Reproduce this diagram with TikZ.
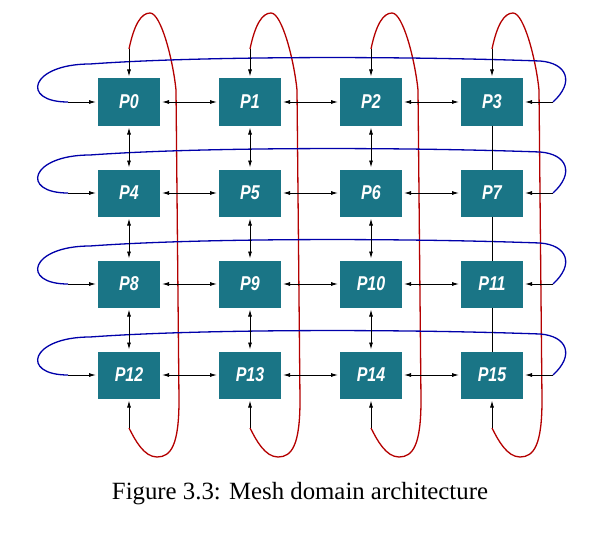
\documentclass[tikz,border=0pt]{standalone}
\usepackage{fontspec}
\setmainfont{Liberation Serif}
\newfontfamily\procfont[FakeStretch=0.8]{Liberation Sans}
\usepackage{tikz}
\usetikzlibrary{arrows.meta}

\definecolor{proccol}{RGB}{26,117,134}
\definecolor{wrapred}{RGB}{180,0,0}
\definecolor{wrapblue}{RGB}{0,0,170}

\begin{document}
\begin{tikzpicture}[x=1pt, y=-1pt, >={Latex[length=7pt, width=4pt]}]
				\tikzstyle{proc} = [fill=proccol, draw=none, minimum width=62pt, minimum height=47pt, inner sep=0pt, outer sep=2pt, text=white, font=\procfont\bfseries\itshape\fontsize{20}{22}\selectfont]
				\tikzstyle{link} = [draw=black, line width=0.9pt]
				\tikzstyle{plain} = [draw=black, line width=0.9pt, shorten <=-2pt, shorten >=-2pt]
				\tikzstyle{wrapv} = [draw=wrapred, line width=1.3pt]
				\tikzstyle{wraph} = [draw=wrapblue, line width=1.3pt]
				
				\useasboundingbox (0, 0) rectangle (597, 535);
				
				% processors
				\node[proc] 	at (129, 102) 	(p0) 	{P0};
				\node[proc] 	at (250, 102) 	(p1) 	{P1};
				\node[proc] 	at (371, 102) 	(p2) 	{P2};
				\node[proc] 	at (492, 102) 	(p3) 	{P3};
				\node[proc] 	at (129, 193) 	(p4) 	{P4};
				\node[proc] 	at (250, 193) 	(p5) 	{P5};
				\node[proc] 	at (371, 193) 	(p6) 	{P6};
				\node[proc] 	at (492, 193) 	(p7) 	{P7};
				\node[proc] 	at (129, 284) 	(p8) 	{P8};
				\node[proc] 	at (250, 284) 	(p9) 	{P9};
				\node[proc] 	at (371, 284) 	(p10) 	{P10};
				\node[proc] 	at (492, 284) 	(p11) 	{P11};
				\node[proc] 	at (129, 375) 	(p12) 	{P12};
				\node[proc] 	at (250, 375) 	(p13) 	{P13};
				\node[proc] 	at (371, 375) 	(p14) 	{P14};
				\node[proc] 	at (492, 375) 	(p15) 	{P15};
				
				% free ends of the wrap-around links
				\coordinate (t0) at (129, 49);
				\coordinate (t1) at (250, 49);
				\coordinate (t2) at (371, 49);
				\coordinate (t3) at (492, 49);
				\coordinate (b0) at (129, 428);
				\coordinate (b1) at (250, 428);
				\coordinate (b2) at (371, 428);
				\coordinate (b3) at (492, 428);
				\coordinate (l0) at (68, 102);
				\coordinate (l1) at (68, 193);
				\coordinate (l2) at (68, 284);
				\coordinate (l3) at (68, 375);
				\coordinate (r0) at (553, 102);
				\coordinate (r1) at (553, 193);
				\coordinate (r2) at (553, 284);
				\coordinate (r3) at (553, 375);
				
				% column wrap-around
				\draw[wrapv] (t0) .. controls +(5,-24) and +(-9,0) .. ++(21,-36) .. controls +(11,0) and +(-3,-30) .. ++(26,77) -- ++(3,310) .. controls +(0,45) and +(14,0) .. ++(-22,57) .. controls +(-13,0) and +(6,12) .. (b0);
				\draw[wrapv] (t1) .. controls +(5,-24) and +(-9,0) .. ++(21,-36) .. controls +(11,0) and +(-3,-30) .. ++(26,77) -- ++(3,310) .. controls +(0,45) and +(14,0) .. ++(-22,57) .. controls +(-13,0) and +(6,12) .. (b1);
				\draw[wrapv] (t2) .. controls +(5,-24) and +(-9,0) .. ++(21,-36) .. controls +(11,0) and +(-3,-30) .. ++(26,77) -- ++(3,310) .. controls +(0,45) and +(14,0) .. ++(-22,57) .. controls +(-13,0) and +(6,12) .. (b2);
				\draw[wrapv] (t3) .. controls +(5,-24) and +(-9,0) .. ++(21,-36) .. controls +(11,0) and +(-3,-30) .. ++(26,77) -- ++(3,310) .. controls +(0,45) and +(14,0) .. ++(-22,57) .. controls +(-13,0) and +(6,12) .. (b3);
				
				% row wrap-around
				\draw[wraph] (l0) .. controls +(-48,0) and +(-60,0) .. ++(22,-38) .. controls +(110,-8) and +(-140,-5) .. ++(450,-3) .. controls +(27,2) and +(22,-20) .. (r0);
				\draw[wraph] (l1) .. controls +(-48,0) and +(-60,0) .. ++(22,-38) .. controls +(110,-8) and +(-140,-5) .. ++(450,-3) .. controls +(27,2) and +(22,-20) .. (r1);
				\draw[wraph] (l2) .. controls +(-48,0) and +(-60,0) .. ++(22,-38) .. controls +(110,-8) and +(-140,-5) .. ++(450,-3) .. controls +(27,2) and +(22,-20) .. (r2);
				\draw[wraph] (l3) .. controls +(-48,0) and +(-60,0) .. ++(22,-38) .. controls +(110,-8) and +(-140,-5) .. ++(450,-3) .. controls +(27,2) and +(22,-20) .. (r3);
				
				% mesh links
				\path[link, <->]
				(p0)	edge	(p1)
				(p1)	edge	(p2)
				(p2)	edge	(p3)
				(p4)	edge	(p5)
				(p5)	edge	(p6)
				(p6)	edge	(p7)
				(p8)	edge	(p9)
				(p9)	edge	(p10)
				(p10)	edge	(p11)
				(p12)	edge	(p13)
				(p13)	edge	(p14)
				(p14)	edge	(p15)
				(p0)	edge	(p4)
				(p4)	edge	(p8)
				(p8)	edge	(p12)
				(p1)	edge	(p5)
				(p5)	edge	(p9)
				(p9)	edge	(p13)
				(p2)	edge	(p6)
				(p6)	edge	(p10)
				(p10)	edge	(p14);
				\path[plain]
				(p3)	edge	(p7)
				(p7)	edge	(p11)
				(p11)	edge	(p15);
				
				% ends of the wrap-around links
				\draw[link, ->] (t0) -- (p0);
				\draw[link, ->] (t1) -- (p1);
				\draw[link, ->] (t2) -- (p2);
				\draw[link, ->] (t3) -- (p3);
				\draw[link, ->] (b0) -- (p12);
				\draw[link, ->] (b1) -- (p13);
				\draw[link, ->] (b2) -- (p14);
				\draw[link, ->] (b3) -- (p15);
				\draw[link, ->] (l0) -- (p0);
				\draw[link, ->] (l1) -- (p4);
				\draw[link, ->] (l2) -- (p8);
				\draw[link, ->] (l3) -- (p12);
				\draw[link, ->] (r0) -- (p3);
				\draw[link, ->] (r1) -- (p7);
				\draw[link, ->] (r2) -- (p11);
				\draw[link, ->] (r3) -- (p15.east);
				
				\node[anchor=base, font=\fontsize{24.8}{28}\selectfont] at (300, 499) (caption) {Figure 3.3: Mesh domain architecture};
				\end{tikzpicture}
\end{document}
